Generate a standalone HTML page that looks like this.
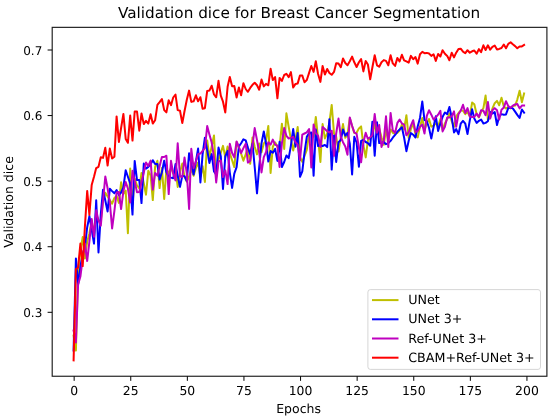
<!DOCTYPE html>
<html><head><meta charset="utf-8"><title>Validation dice for Breast Cancer Segmentation</title>
<style>html,body{margin:0;padding:0;background:#fff;}</style></head>
<body>
<svg width="550" height="419" viewBox="0 0 550 419" style="display:block;font-family:'DejaVu Sans','Liberation Sans',sans-serif;" text-rendering="geometricPrecision">
<rect width="550" height="419" fill="#fff"/>
<clipPath id="c"><rect x="52.2" y="27.4" width="494.7" height="348.9"/></clipPath>
<g clip-path="url(#c)">
<polyline points="73.6,335.5 75.9,350.5 78.1,272.5 80.4,250.5 82.7,237.1 84.9,258.5 87.2,241.5 89.4,233.5 91.7,220.7 94.0,233.8 96.2,214.1 98.5,220.7 100.8,220.7 103.0,201.0 105.3,192.8 107.6,196.5 109.8,200.0 112.1,203.7 114.4,197.9 116.6,195.9 118.9,203.0 121.1,182.3 123.4,194.0 125.7,190.5 127.9,233.3 130.2,168.6 132.5,204.5 134.7,178.5 137.0,185.5 139.3,188.5 141.5,173.0 143.8,183.5 146.0,194.7 148.3,170.8 150.6,175.5 152.8,200.1 155.1,166.9 157.4,160.8 159.6,188.1 161.9,167.9 164.2,199.0 166.4,169.0 168.7,173.4 171.0,167.9 173.2,173.4 175.5,169.0 177.7,186.9 180.0,172.3 182.3,163.5 184.5,176.7 186.8,181.7 189.1,176.7 191.3,169.0 193.6,175.7 195.9,167.9 198.1,162.5 200.4,176.7 202.6,166.2 204.9,181.9 207.2,140.4 209.4,157.4 211.7,146.5 214.0,135.5 216.2,177.0 218.5,159.7 220.8,152.8 223.0,145.9 225.3,157.4 227.6,146.5 229.8,153.4 232.1,160.2 234.3,167.1 236.6,142.1 238.9,147.6 241.1,153.6 243.4,160.7 245.7,154.3 247.9,147.8 250.2,163.8 252.5,137.4 254.7,146.7 257.0,154.4 259.2,143.4 261.5,152.2 263.8,143.4 266.0,141.2 268.3,125.9 270.6,173.0 272.8,146.7 275.1,142.3 277.4,146.7 279.6,146.7 281.9,123.7 284.2,148.9 286.4,113.3 288.7,127.0 290.9,139.1 293.2,150.6 295.5,139.1 297.7,127.0 300.0,157.1 302.3,161.9 304.5,155.8 306.8,149.8 309.1,133.4 311.3,133.4 313.6,136.8 315.8,116.9 318.1,138.9 320.4,161.9 322.6,124.1 324.9,138.4 327.2,133.4 329.4,122.5 331.7,104.9 334.0,133.4 336.2,136.8 338.5,151.5 340.8,136.8 343.0,124.1 345.3,137.8 347.5,134.5 349.8,118.1 352.1,126.3 354.3,132.9 356.6,132.8 358.9,128.4 361.1,126.4 363.4,145.3 365.7,157.4 367.9,140.4 370.2,138.2 372.4,136.0 374.7,124.0 377.0,133.8 379.2,128.4 381.5,137.2 383.8,144.8 386.0,129.4 388.3,140.4 390.6,129.4 392.8,132.8 395.1,133.8 397.4,132.8 399.6,130.5 401.9,124.5 404.1,129.4 406.4,115.2 408.7,138.0 410.9,129.0 413.2,123.4 415.5,134.4 417.7,137.5 420.0,126.7 422.3,117.9 424.5,130.0 426.8,123.4 429.0,119.0 431.3,126.7 433.6,125.6 435.8,123.4 438.1,126.7 440.4,119.0 442.6,130.0 444.9,123.4 447.2,119.0 449.4,113.5 451.7,121.2 454.0,126.7 456.2,116.4 458.5,113.1 460.7,110.3 463.0,110.8 465.3,114.1 467.5,112.0 469.8,116.4 472.1,102.6 474.3,104.3 476.6,114.1 478.9,117.4 481.1,112.0 483.4,108.1 485.6,95.5 487.9,119.6 490.2,117.4 492.4,108.7 494.7,103.2 497.0,100.9 499.2,105.3 501.5,97.7 503.8,106.5 506.0,108.4 508.3,107.2 510.6,108.4 512.8,106.1 515.1,105.6 517.3,99.6 519.6,90.8 521.9,102.3 524.1,93.5" fill="none" stroke="#bfbf00" stroke-width="2.0" stroke-linejoin="round" stroke-linecap="square"/>
<polyline points="73.6,350.5 75.9,258.4 78.1,284.5 80.4,266.6 82.7,253.5 84.9,246.9 87.2,227.2 89.4,216.1 91.7,229.8 94.0,243.6 96.2,200.3 98.5,252.5 100.8,214.1 103.0,189.8 105.3,200.5 107.6,211.5 109.8,188.8 112.1,191.1 114.4,193.3 116.6,190.1 118.9,195.1 121.1,192.5 123.4,187.3 125.7,170.2 127.9,176.7 130.2,183.4 132.5,214.6 134.7,160.9 137.0,180.1 139.3,180.1 141.5,203.1 143.8,163.6 146.0,168.6 148.3,166.9 150.6,164.1 152.8,160.2 155.1,164.1 157.4,164.1 159.6,179.5 161.9,172.3 164.2,160.8 166.4,172.3 168.7,176.7 171.0,177.6 173.2,178.3 175.5,164.1 177.7,175.7 180.0,186.9 182.3,175.7 184.5,176.2 186.8,181.1 189.1,153.2 191.3,163.5 193.6,174.5 195.9,161.4 198.1,148.6 200.4,182.5 202.6,154.1 204.9,137.7 207.2,150.3 209.4,162.9 211.7,154.1 214.0,171.5 216.2,174.7 218.5,147.6 220.8,156.3 223.0,189.0 225.3,156.3 227.6,150.9 229.8,172.6 232.1,187.9 234.3,173.7 236.6,167.1 238.9,146.5 241.1,143.2 243.4,139.3 245.7,140.4 247.9,147.6 250.2,154.1 252.5,143.4 254.7,167.0 257.0,193.3 259.2,167.0 261.5,143.4 263.8,131.4 266.0,143.4 268.3,161.5 270.6,151.1 272.8,152.8 275.1,148.9 277.4,160.9 279.6,141.8 281.9,167.0 284.2,162.0 286.4,155.5 288.7,158.2 290.9,145.6 293.2,129.1 295.5,146.7 297.7,133.0 300.0,176.8 302.3,171.3 304.5,152.6 306.8,136.8 309.1,132.9 311.3,132.4 313.6,175.7 315.8,129.6 318.1,146.0 320.4,145.4 322.6,146.0 324.9,144.9 327.2,147.1 329.4,119.2 331.7,169.6 334.0,135.6 336.2,161.9 338.5,142.2 340.8,140.0 343.0,129.6 345.3,135.6 347.5,132.9 349.8,143.8 352.1,174.5 354.3,136.8 356.6,142.5 358.9,166.7 361.1,140.9 363.4,139.8 365.7,142.0 367.9,143.1 370.2,145.8 372.4,121.7 374.7,155.7 377.0,122.3 379.2,143.1 381.5,143.1 383.8,142.0 386.0,144.2 388.3,143.1 390.6,140.9 392.8,137.7 395.1,134.9 397.4,131.6 399.6,129.5 401.9,127.2 404.1,137.5 406.4,151.2 408.7,140.8 410.9,133.1 413.2,134.7 415.5,137.5 417.7,126.5 420.0,117.9 422.3,101.5 424.5,120.2 426.8,121.2 429.0,127.8 431.3,138.6 433.6,126.7 435.8,116.3 438.1,130.9 440.4,123.4 442.6,116.9 444.9,112.5 447.2,114.1 449.4,107.0 451.7,117.4 454.0,132.4 456.2,129.1 458.5,134.1 460.7,123.7 463.0,120.9 465.3,123.7 467.5,134.1 469.8,120.4 472.1,109.2 474.3,118.5 476.6,122.9 478.9,120.8 481.1,119.6 483.4,123.5 485.6,122.9 487.9,121.3 490.2,112.0 492.4,113.6 494.7,112.0 497.0,125.1 499.2,116.4 501.5,114.1 503.8,114.7 506.0,114.4 508.3,107.8 510.6,107.8 512.8,108.4 515.1,111.6 517.3,114.9 519.6,118.0 521.9,109.5 524.1,112.7" fill="none" stroke="#0000ff" stroke-width="2.0" stroke-linejoin="round" stroke-linecap="square"/>
<polyline points="73.6,330.5 75.9,342.5 78.1,284.5 80.4,276.5 82.7,258.5 84.9,243.5 87.2,261.0 89.4,241.5 91.7,219.0 94.0,236.7 96.2,210.2 98.5,220.7 100.8,225.6 103.0,201.0 105.3,176.5 107.6,188.3 109.8,202.0 112.1,228.5 114.4,210.8 116.6,192.5 118.9,192.0 121.1,209.1 123.4,191.1 125.7,182.0 127.9,188.5 130.2,202.5 132.5,170.8 134.7,181.3 137.0,192.2 139.3,192.0 141.5,182.3 143.8,172.4 146.0,162.5 148.3,165.9 150.6,160.6 152.8,189.7 155.1,172.9 157.4,175.7 159.6,166.3 161.9,157.0 164.2,157.0 166.4,155.7 168.7,194.1 171.0,160.8 173.2,173.4 175.5,180.4 177.7,143.3 180.0,176.5 182.3,177.1 184.5,157.5 186.8,173.4 189.1,208.9 191.3,148.8 193.6,168.3 195.9,161.2 198.1,154.1 200.4,153.6 202.6,150.9 204.9,148.1 207.2,126.1 209.4,134.4 211.7,142.6 214.0,157.4 216.2,182.5 218.5,161.6 220.8,160.5 223.0,177.0 225.3,170.4 227.6,184.1 229.8,143.7 232.1,153.0 234.3,157.4 236.6,141.5 238.9,147.0 241.1,153.0 243.4,148.1 245.7,143.7 247.9,162.6 250.2,160.9 252.5,145.4 254.7,128.1 257.0,140.2 259.2,152.2 261.5,172.4 263.8,157.1 266.0,152.2 268.3,142.3 270.6,144.6 272.8,139.6 275.1,144.6 277.4,145.6 279.6,167.0 281.9,143.4 284.2,128.1 286.4,135.8 288.7,138.5 290.9,137.9 293.2,136.8 295.5,142.3 297.7,144.6 300.0,160.4 302.3,134.7 304.5,133.5 306.8,132.4 309.1,129.0 311.3,167.4 313.6,124.6 315.8,133.4 318.1,135.6 320.4,147.1 322.6,126.9 324.9,129.0 327.2,131.2 329.4,132.4 331.7,130.7 334.0,155.8 336.2,133.4 338.5,118.6 340.8,136.8 343.0,142.2 345.3,146.5 347.5,154.8 349.8,117.5 352.1,125.7 354.3,132.4 356.6,133.8 358.9,147.5 361.1,162.3 363.4,142.5 365.7,132.8 367.9,138.8 370.2,137.2 372.4,134.9 374.7,114.1 377.0,132.8 379.2,125.0 381.5,146.9 383.8,140.4 386.0,116.3 388.3,146.9 390.6,112.9 392.8,130.5 395.1,132.8 397.4,122.9 399.6,119.6 401.9,123.4 404.1,124.6 406.4,135.3 408.7,132.2 410.9,125.6 413.2,120.2 415.5,132.0 417.7,131.1 420.0,126.7 422.3,124.6 424.5,133.6 426.8,115.8 429.0,110.3 431.3,114.7 433.6,119.6 435.8,117.4 438.1,114.7 440.4,110.8 442.6,131.4 444.9,126.7 447.2,117.4 449.4,117.4 451.7,116.4 454.0,111.4 456.2,126.8 458.5,114.1 460.7,110.8 463.0,104.8 465.3,113.1 467.5,108.1 469.8,116.4 472.1,116.9 474.3,116.9 476.6,113.6 478.9,116.9 481.1,110.3 483.4,110.8 485.6,115.2 487.9,102.1 490.2,118.5 492.4,110.3 494.7,108.1 497.0,110.3 499.2,119.6 501.5,109.7 503.8,107.6 506.0,101.2 508.3,106.1 510.6,107.8 512.8,105.6 515.1,104.5 517.3,104.0 519.6,108.4 521.9,105.6 524.1,105.6" fill="none" stroke="#bf00bf" stroke-width="2.0" stroke-linejoin="round" stroke-linecap="square"/>
<polyline points="73.6,360.4 75.9,269.2 78.1,267.4 80.4,243.6 82.7,266.1 84.9,226.6 87.2,190.9 89.4,214.8 91.7,184.9 94.0,176.7 96.2,168.1 98.5,166.8 100.8,157.2 103.0,157.9 105.3,147.8 107.6,165.6 109.8,148.6 112.1,158.5 114.4,156.8 116.6,116.4 118.9,142.0 121.1,128.0 123.4,113.9 125.7,138.9 127.9,142.8 130.2,115.6 132.5,140.6 134.7,111.5 137.0,111.5 139.3,130.7 141.5,113.5 143.8,124.1 146.0,120.8 148.3,123.6 150.6,114.2 152.8,123.6 155.1,120.3 157.4,104.9 159.6,102.1 161.9,99.0 164.2,110.1 166.4,112.4 168.7,100.3 171.0,105.2 173.2,97.5 175.5,94.6 177.7,110.1 180.0,110.7 182.3,123.1 184.5,111.2 186.8,99.7 189.1,90.6 191.3,101.9 193.6,101.3 195.9,95.3 198.1,101.3 200.4,97.2 202.6,108.7 204.9,108.2 207.2,90.9 209.4,90.6 211.7,85.7 214.0,94.5 216.2,97.3 218.5,80.8 220.8,95.6 223.0,101.7 225.3,112.5 227.6,86.8 229.8,76.9 232.1,86.2 234.3,86.0 236.6,97.5 238.9,87.4 241.1,95.2 243.4,83.2 245.7,89.0 247.9,91.8 250.2,87.9 252.5,84.8 254.7,82.8 257.0,85.3 259.2,89.7 261.5,79.6 263.8,86.4 266.0,83.9 268.3,85.3 270.6,68.8 272.8,80.1 275.1,77.1 277.4,98.3 279.6,77.9 281.9,80.9 284.2,75.0 286.4,73.8 288.7,77.1 290.9,72.1 293.2,87.5 295.5,83.9 297.7,83.4 300.0,75.4 302.3,75.6 304.5,82.2 306.8,80.0 309.1,72.9 311.3,66.0 313.6,71.9 315.8,61.3 318.1,74.0 320.4,81.9 322.6,66.0 324.9,74.5 327.2,69.0 329.4,72.9 331.7,74.8 334.0,71.9 336.2,63.2 338.5,63.5 340.8,67.2 343.0,58.4 345.3,63.0 347.5,65.2 349.8,61.3 352.1,56.6 354.3,62.3 356.6,67.0 358.9,62.3 361.1,59.0 363.4,71.4 365.7,60.9 367.9,64.5 370.2,79.3 372.4,67.2 374.7,55.2 377.0,65.3 379.2,66.7 381.5,62.3 383.8,60.1 386.0,60.9 388.3,65.3 390.6,55.2 392.8,63.4 395.1,65.9 397.4,57.9 399.6,61.5 401.9,54.8 404.1,60.3 406.4,61.4 408.7,62.6 410.9,55.9 413.2,59.2 415.5,57.1 417.7,63.6 420.0,54.3 422.3,51.9 424.5,53.2 426.8,52.9 429.0,53.5 431.3,55.9 433.6,54.3 435.8,60.9 438.1,54.0 440.4,56.5 442.6,50.2 444.9,53.8 447.2,55.9 449.4,60.3 451.7,52.7 454.0,57.4 456.2,52.7 458.5,48.9 460.7,48.7 463.0,51.6 465.3,53.2 467.5,50.2 469.8,52.7 472.1,51.3 474.3,50.5 476.6,53.8 478.9,49.1 481.1,52.1 483.4,45.3 485.6,50.0 487.9,45.3 490.2,49.7 492.4,46.9 494.7,45.6 497.0,49.4 499.2,48.9 501.5,48.0 503.8,44.5 506.0,48.3 508.3,43.9 510.6,42.3 512.8,44.3 515.1,46.1 517.3,48.3 519.6,46.4 521.9,46.4 524.1,45.0" fill="none" stroke="#ff0000" stroke-width="2.0" stroke-linejoin="round" stroke-linecap="square"/>
</g>
<rect x="52.20" y="27.35" width="494.70" height="348.90" fill="none" stroke="#1c1c1c" stroke-width="1.15"/>
<line x1="74.15" y1="376.25" x2="74.15" y2="380.85" stroke="#000" stroke-width="1"/>
<text x="74.15" y="394.8" font-size="12.4" text-anchor="middle" fill="#000">0</text>
<line x1="130.75" y1="376.25" x2="130.75" y2="380.85" stroke="#000" stroke-width="1"/>
<text x="130.75" y="394.8" font-size="12.4" text-anchor="middle" fill="#000">25</text>
<line x1="187.35" y1="376.25" x2="187.35" y2="380.85" stroke="#000" stroke-width="1"/>
<text x="187.35" y="394.8" font-size="12.4" text-anchor="middle" fill="#000">50</text>
<line x1="243.95" y1="376.25" x2="243.95" y2="380.85" stroke="#000" stroke-width="1"/>
<text x="243.95" y="394.8" font-size="12.4" text-anchor="middle" fill="#000">75</text>
<line x1="300.55" y1="376.25" x2="300.55" y2="380.85" stroke="#000" stroke-width="1"/>
<text x="300.55" y="394.8" font-size="12.4" text-anchor="middle" fill="#000">100</text>
<line x1="357.15" y1="376.25" x2="357.15" y2="380.85" stroke="#000" stroke-width="1"/>
<text x="357.15" y="394.8" font-size="12.4" text-anchor="middle" fill="#000">125</text>
<line x1="413.75" y1="376.25" x2="413.75" y2="380.85" stroke="#000" stroke-width="1"/>
<text x="413.75" y="394.8" font-size="12.4" text-anchor="middle" fill="#000">150</text>
<line x1="470.35" y1="376.25" x2="470.35" y2="380.85" stroke="#000" stroke-width="1"/>
<text x="470.35" y="394.8" font-size="12.4" text-anchor="middle" fill="#000">175</text>
<line x1="526.95" y1="376.25" x2="526.95" y2="380.85" stroke="#000" stroke-width="1"/>
<text x="526.95" y="394.8" font-size="12.4" text-anchor="middle" fill="#000">200</text>
<line x1="47.60" y1="312.30" x2="52.20" y2="312.30" stroke="#000" stroke-width="1"/>
<text x="42.3" y="317.00" font-size="12.0" text-anchor="end" fill="#000">0.3</text>
<line x1="47.60" y1="246.72" x2="52.20" y2="246.72" stroke="#000" stroke-width="1"/>
<text x="42.3" y="251.42" font-size="12.0" text-anchor="end" fill="#000">0.4</text>
<line x1="47.60" y1="181.15" x2="52.20" y2="181.15" stroke="#000" stroke-width="1"/>
<text x="42.3" y="185.85" font-size="12.0" text-anchor="end" fill="#000">0.5</text>
<line x1="47.60" y1="115.57" x2="52.20" y2="115.57" stroke="#000" stroke-width="1"/>
<text x="42.3" y="120.27" font-size="12.0" text-anchor="end" fill="#000">0.6</text>
<line x1="47.60" y1="50.00" x2="52.20" y2="50.00" stroke="#000" stroke-width="1"/>
<text x="42.3" y="54.70" font-size="12.0" text-anchor="end" fill="#000">0.7</text>
<text x="298.6" y="412.8" font-size="12.5" text-anchor="middle" fill="#000">Epochs</text>
<text transform="translate(13.4,202) rotate(-90)" font-size="12.5" text-anchor="middle" fill="#000">Validation dice</text>
<text x="299.1" y="18.0" font-size="15.25" text-anchor="middle" fill="#000">Validation dice for Breast Cancer Segmentation</text>
<rect x="367.9" y="289.6" width="172.6" height="79.8" rx="2.5" ry="2.5" fill="#fff" fill-opacity="0.8" stroke="#ccc" stroke-opacity="0.8" stroke-width="1"/>
<line x1="373.0" y1="300.1" x2="397.5" y2="300.1" stroke="#bfbf00" stroke-width="2.0" stroke-linecap="square"/>
<text x="408.2" y="304.2" font-size="12.7" fill="#000">UNet</text>
<line x1="373.0" y1="319.3" x2="397.5" y2="319.3" stroke="#0000ff" stroke-width="2.0" stroke-linecap="square"/>
<text x="408.2" y="323.4" font-size="12.7" fill="#000">UNet 3+</text>
<line x1="373.0" y1="338.5" x2="397.5" y2="338.5" stroke="#bf00bf" stroke-width="2.0" stroke-linecap="square"/>
<text x="408.2" y="342.6" font-size="12.7" fill="#000">Ref-UNet 3+</text>
<line x1="373.0" y1="357.7" x2="397.5" y2="357.7" stroke="#ff0000" stroke-width="2.0" stroke-linecap="square"/>
<text x="408.2" y="361.8" font-size="12.7" fill="#000">CBAM+Ref-UNet 3+</text>
</svg>
</body></html>
